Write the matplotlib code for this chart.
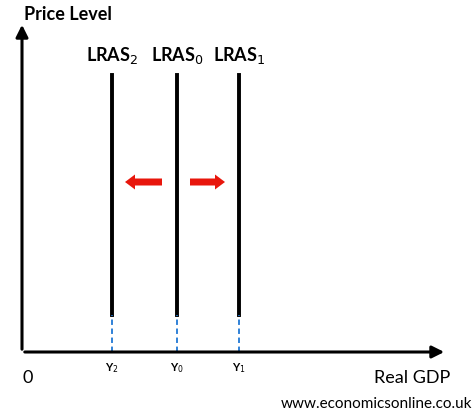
import matplotlib.pyplot as plt
from matplotlib.patches import FancyArrow

plt.rcParams["font.family"] = ["Lato", "DejaVu Sans"]

# curve positions along Real GDP (chart units, origin at axis corner)
curves = ["2", "0", "1"]
gdp = [90, 155, 217]
lras_top = 277
dash_top = 37
shift_arrows = [(140, 103), (168, 203)]  # (start, end) along GDP
arrow_level = 170

fig = plt.figure(figsize=(4.74, 4.15), dpi=100)
ax = fig.add_axes([0, 0, 1, 1])
ax.set_xlim(-22, 452)
ax.set_ylim(-63, 352)
ax.axis("off")

# axes with arrowheads
ax.annotate("", xy=(0, 330), xytext=(0, 0),
            arrowprops=dict(arrowstyle="-|>", lw=2.2, color="black", mutation_scale=18))
ax.annotate("", xy=(425, 0), xytext=(0, 0),
            arrowprops=dict(arrowstyle="-|>", lw=2.2, color="black", mutation_scale=18))

for sub, x in zip(curves, gdp):
    ax.plot([x, x], [dash_top, lras_top], color="black", lw=2.8)
    ax.plot([x, x], [0, dash_top], color="#1f77d4", lw=1.3, ls=(0, (3, 2)))
    ax.text(x, lras_top + 20, f"LRAS$_{sub}$", ha="center", va="center",
            fontsize=13, fontweight="bold")
    ax.text(x, -16, f"Y$_{sub}$", ha="center", va="center", fontsize=8, fontweight="bold")

for x0, x1 in shift_arrows:
    ax.add_patch(FancyArrow(x0, arrow_level, x1 - x0, 0, width=7, head_width=15,
                            head_length=10, length_includes_head=True,
                            color="#e8160c", lw=0))

ax.text(2, 337, "Price Level", ha="left", va="center", fontsize=13, fontweight="bold")
ax.text(6, -26, "0", ha="center", va="center", fontsize=13)
ax.text(428, -26, "Real GDP", ha="right", va="center", fontsize=13)
ax.text(450, -52, "www.economicsonline.co.uk", ha="right", va="center", fontsize=11)

fig.savefig("out.png")
